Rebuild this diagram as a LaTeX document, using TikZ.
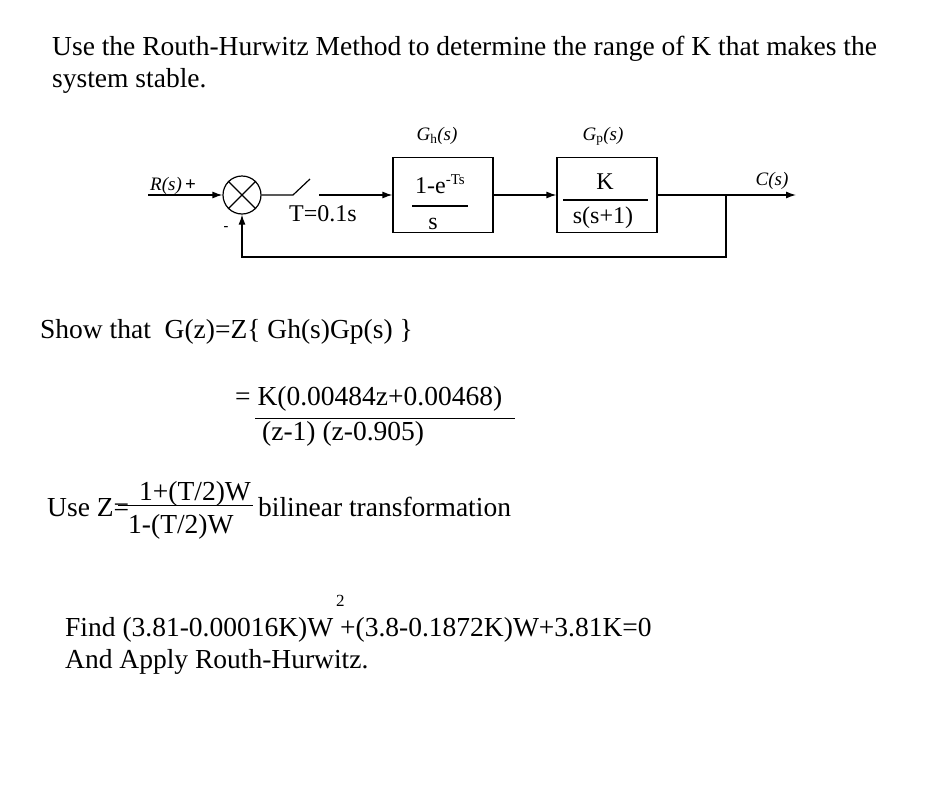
\documentclass[tikz,border=0pt]{standalone}
\usepackage{fontspec}
\setmainfont{Liberation Serif}
\usetikzlibrary{arrows.meta}
\begin{document}
\begin{tikzpicture}[x=1pt,y=-1pt,
  txt/.style={anchor=base west,inner sep=0pt,font=\fontsize{27.5}{30}\selectfont},
  mid/.style={inner sep=0pt,font=\fontsize{24}{26}\selectfont},
  lbl/.style={inner sep=0pt,font=\fontsize{19}{22}\selectfont\itshape},
  blk/.style={draw,line width=1.2pt,minimum width=#1,minimum height=75pt,inner sep=0pt},
  ln/.style={line width=1.2pt},
  arr/.style={ln,-{Latex[length=10pt,width=7pt]}}]
\useasboundingbox (0,0) rectangle (943,809);
\node[txt] (t1) at (52,55) {Use the Routh-Hurwitz Method to determine the range of K that makes the};
\node[txt] (t2) at (52,87) {system stable.};
% block diagram
\coordinate (rin) at (148,195);
\node[lbl,anchor=base west] (rs) at (150,190) {R(s)\,\upshape\bfseries +};
\node[draw,circle,ln,minimum size=38pt,inner sep=0pt] (sum) at (242,195) {};
\draw[ln] (sum.45)--(sum.225) (sum.135)--(sum.315);
\draw[arr] (rin)--(sum.west);
\coordinate (sw1) at (293,195);
\coordinate (sw2) at (310,179);
\coordinate (sw3) at (319,195);
\draw[ln] (sum.east)--(sw1)--(sw2);
\node[mid,anchor=base] (T) at (323,221) {T=0.1s};
\node[blk=100pt] (gh) at (443,195) {};
\node[mid,anchor=base] (num1) at (440,193) {1-e\raisebox{9pt}{\fontsize{15}{15}\selectfont -Ts}};
\draw[ln] (412,206)--(468,206);
\node[mid,anchor=base] (den1) at (433,229) {s};
\draw[arr] (sw3)--(gh.west);
\node[blk=100pt] (gp) at (607,195) {};
\node[mid,anchor=base] (num2) at (605,189) {K};
\draw[ln] (563,200)--(648,200);
\node[mid,anchor=base] (den2) at (603,223) {s(s+1)};
\draw[arr] (gh.east)--(gp.west);
\coordinate (out) at (796,195);
\coordinate (br) at (726,195);
\coordinate (fb1) at (726,257);
\coordinate (fb2) at (242,257);
\draw[arr] (gp.east)--(out);
\draw[arr] (br)--(fb1)--(fb2)--(sum.south);
\node[lbl,anchor=base] (cs) at (772,185) {C(s)};
\node[lbl,anchor=base] (ghl) at (437,140) {G\textsubscript{\upshape h}(s)};
\node[lbl,anchor=base] (gpl) at (603,140) {G\textsubscript{\upshape p}(s)};
\node[font=\bfseries\Large,inner sep=0pt] (minus) at (226,228) {-};
% equations
\node[txt] (s1) at (40,338) {Show that \ G(z)=Z\{ Gh(s)Gp(s) \}};
\node[txt] (s2) at (235,405) {= K(0.00484z+0.00468)};
\draw[ln,line width=0.8pt] (255,418)--(515,418);
\node[txt] (s3) at (262,440) {(z-1) (z-0.905)};
\node[txt] (u1) at (47,516) {Use Z=};
\node[txt] (u2) at (139,500) {1+(T/2)W};
\draw[ln,line width=0.8pt] (118,505)--(253,505);
\node[txt] (u3) at (128,533) {1-(T/2)W};
\node[txt] (u4) at (258,516) {bilinear transformation};
\node[anchor=base west,inner sep=0pt,font=\fontsize{17}{17}\selectfont] (sq) at (336,606) {2};
\node[txt] (f1) at (65,636) {Find (3.81-0.00016K)W +(3.8-0.1872K)W+3.81K=0};
\node[txt] (f2) at (65,668) {And Apply Routh-Hurwitz.};
\end{tikzpicture}
\end{document}
